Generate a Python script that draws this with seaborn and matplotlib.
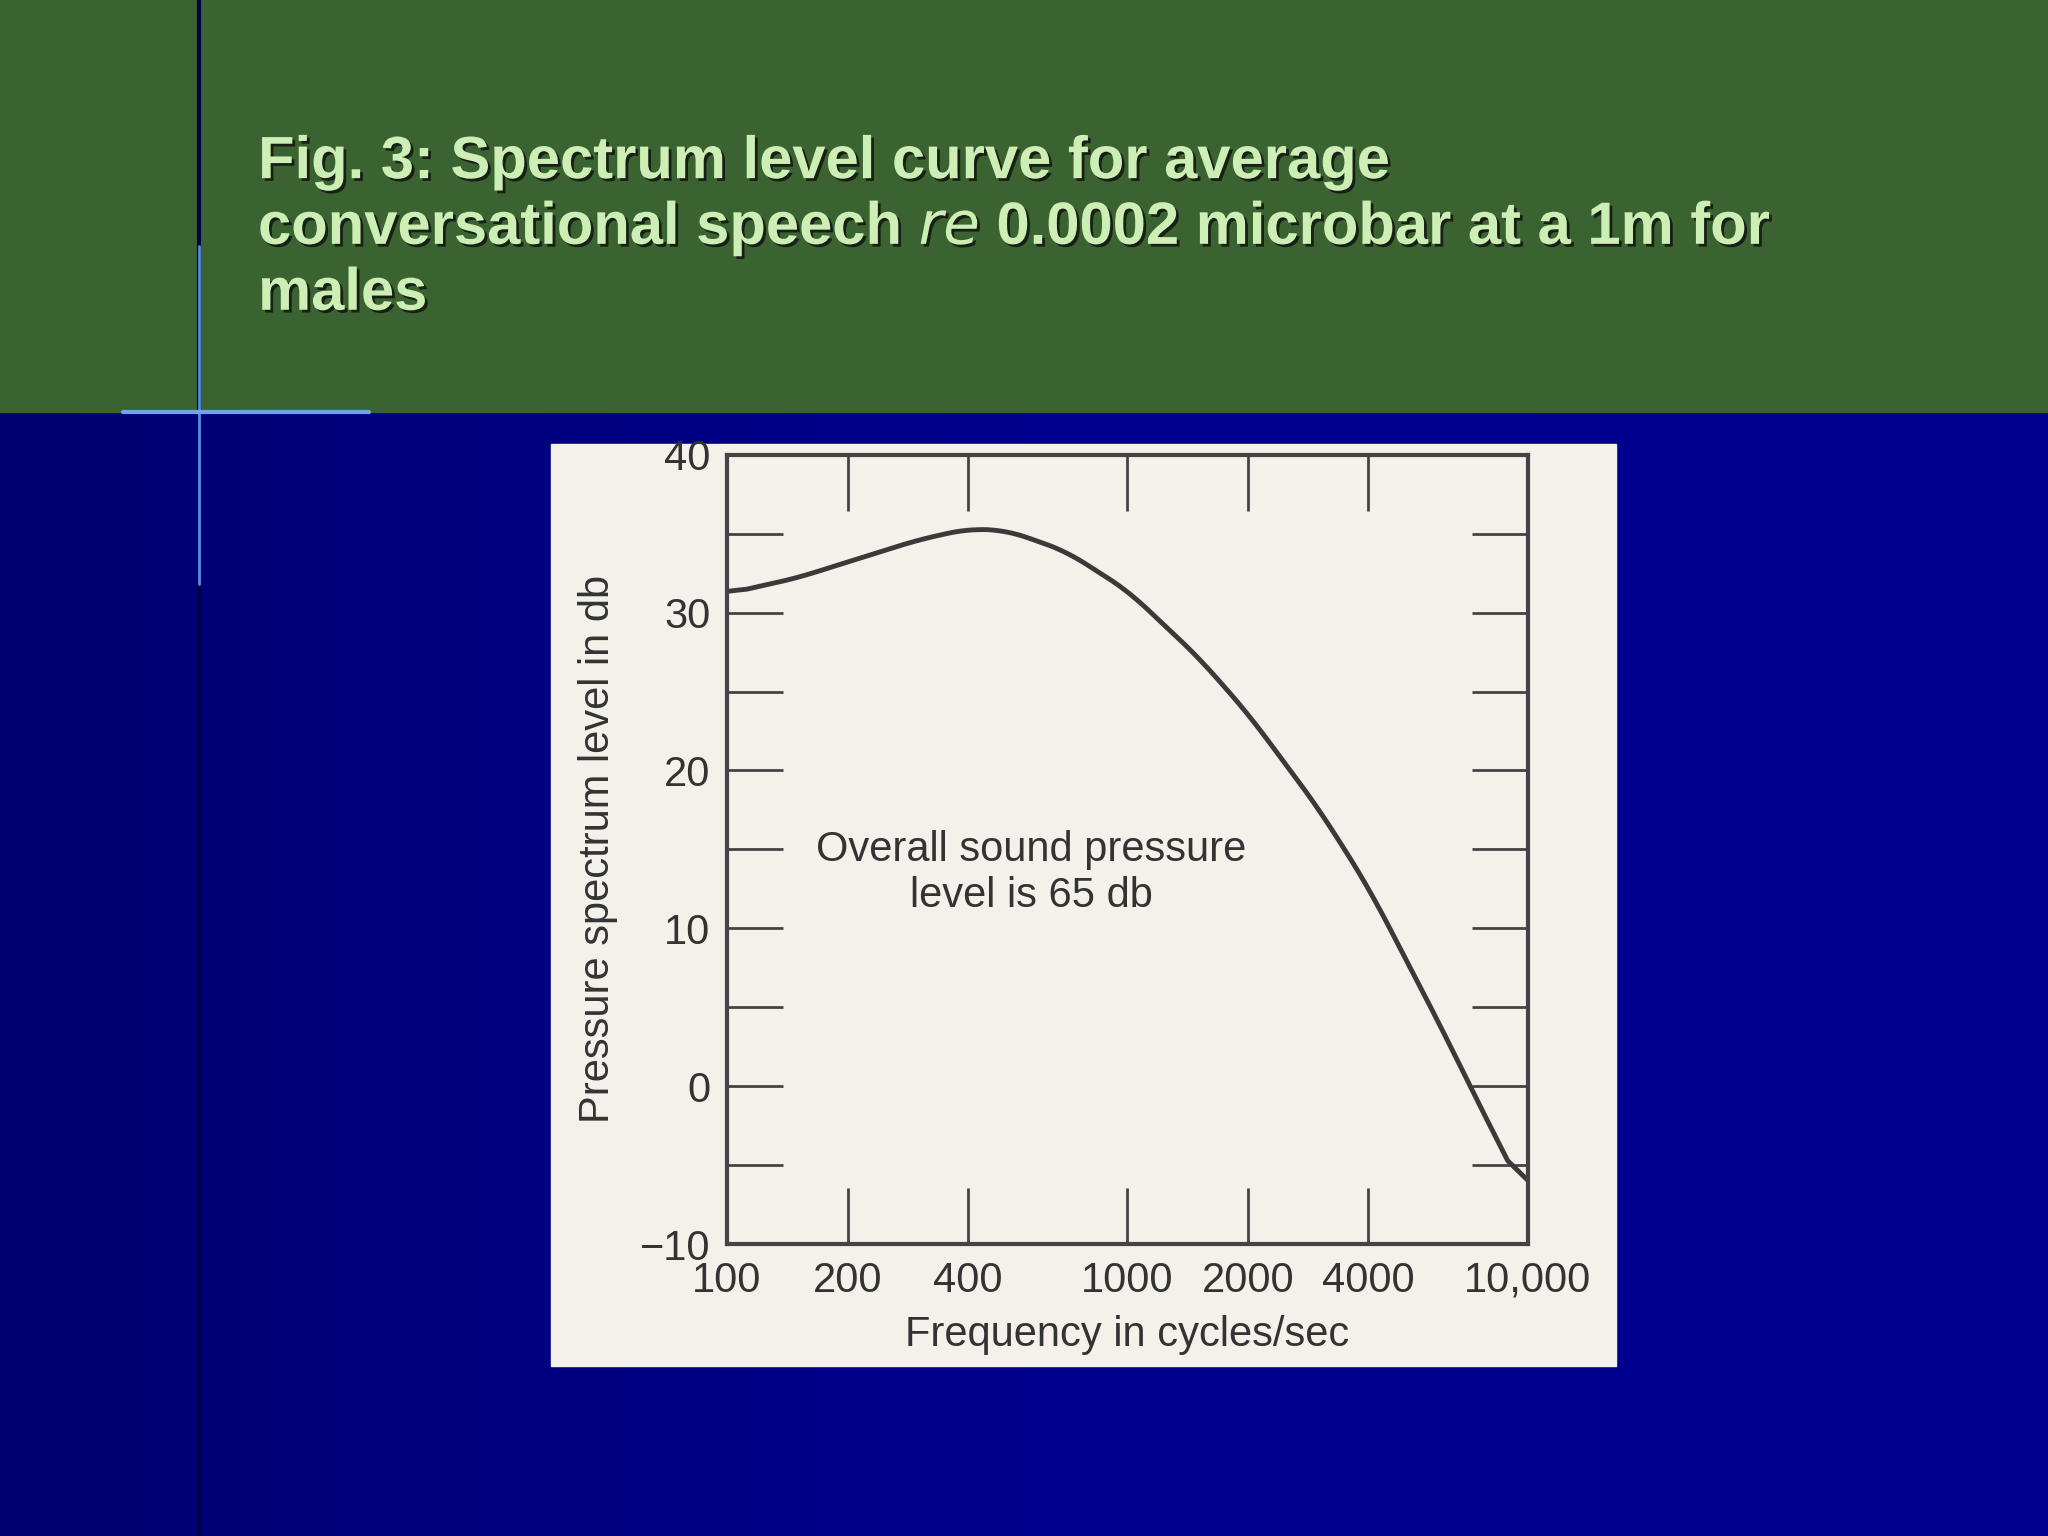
import numpy as np
import pandas as pd
import matplotlib
matplotlib.use('Agg')
import matplotlib.pyplot as plt
import matplotlib.patheffects as pe
import seaborn as sns

# curve
freq = [100, 150, 200, 300, 400, 500, 700, 1000, 1500, 2000, 3000, 4000, 6000, 8000, 10000]
level = [31.2, 32.2, 33.2, 34.6, 35.3, 35.2, 33.9, 31.4, 27.2, 23.6, 17.6, 12.6, 4.0, -2.4, -7.2]
xticks = [100, 200, 400, 1000, 2000, 4000, 10000]
xlabels = ['100', '200', '400', '1000', '2000', '4000', '10,000']
yticks = [-10, 0, 10, 20, 30, 40]
ylabels = ['\u221210', '0', '10', '20', '30', '40']

# smooth in log-frequency space for drawing
lx = np.log10(freq)
fine = np.linspace(lx[0], lx[-1], 400)
df = pd.DataFrame({'f': 10 ** fine, 'db': np.interp(fine, lx, level)})
df['db'] = df['db'].rolling(21, center=True, min_periods=1).mean()

sns.set_style('white')
plt.rcParams['font.family'] = ['Liberation Sans', 'DejaVu Sans']

fig = plt.figure(figsize=(20.48, 15.36), dpi=100)
bg = fig.add_axes([0, 0, 1, 1])
bg.set_axis_off()
grad = np.linspace(0, 1, 256).reshape(1, -1)
bg.imshow(grad, extent=[0, 1, 0, 1], aspect='auto',
          cmap=matplotlib.colors.LinearSegmentedColormap.from_list('b', ['#000070', '#00008e', '#000090']))
bg.add_patch(plt.Rectangle((0, 0.732), 1, 0.268, color='#3b6332'))
bg.plot([0.097, 0.097], [0, 1], color='#00004a', lw=3)
bg.plot([0.097, 0.097], [0.62, 0.84], color='#4f8fe0', lw=2)
bg.plot([0.06, 0.18], [0.732, 0.732], color='#6fa8e0', lw=3)
bg.add_patch(plt.Rectangle((0.269, 0.111), 0.52, 0.6, color='#f4f1ea'))
bg.set_xlim(0, 1)
bg.set_ylim(0, 1)

title = ("Fig. 3: Spectrum level curve for average\n"
         "conversational speech $\\it{re}$ 0.0002 microbar at a 1m for\nmales")
fig.text(0.126, 0.912, title, ha='left', va='top', fontsize=43, fontweight='bold',
         color='#cdeeb4', linespacing=1.2,
         path_effects=[pe.withSimplePatchShadow(offset=(2, -2), shadow_rgbFace='#101010', alpha=0.8)])

ax = fig.add_axes([0.355, 0.190, 0.391, 0.514])
ax.set_facecolor('#f4f1ea')
sns.lineplot(data=df, x='f', y='db', ax=ax, color='#3a3a3a', lw=3.5)
ax.set_xscale('log')
ax.set_xlim(100, 10000)
ax.set_ylim(-10, 40)
ax.set_xticks(xticks)
ax.set_xticklabels(xlabels)
ax.minorticks_off()
ax.set_yticks(yticks)
ax.set_yticklabels(ylabels)
ax.set_yticks(np.arange(-10, 41, 5), minor=True)
ax.tick_params(axis='both', which='both', direction='in', length=40, width=2, color='#444444',
               top=True, right=True, bottom=True, left=True,
               labelsize=30, labelcolor='#333333', pad=12)
for s in ax.spines.values():
    s.set_color('#444444')
    s.set_linewidth(3)
ax.set_xlabel('Frequency in cycles/sec', fontsize=30, color='#333333', labelpad=10)
ax.set_ylabel('Pressure spectrum level in db', fontsize=30, color='#333333', labelpad=16)
ax.text(0.38, 0.47, 'Overall sound pressure\nlevel is 65 db', transform=ax.transAxes,
        ha='center', va='center', fontsize=30, color='#333333')

fig.savefig('out.png', dpi=100)
